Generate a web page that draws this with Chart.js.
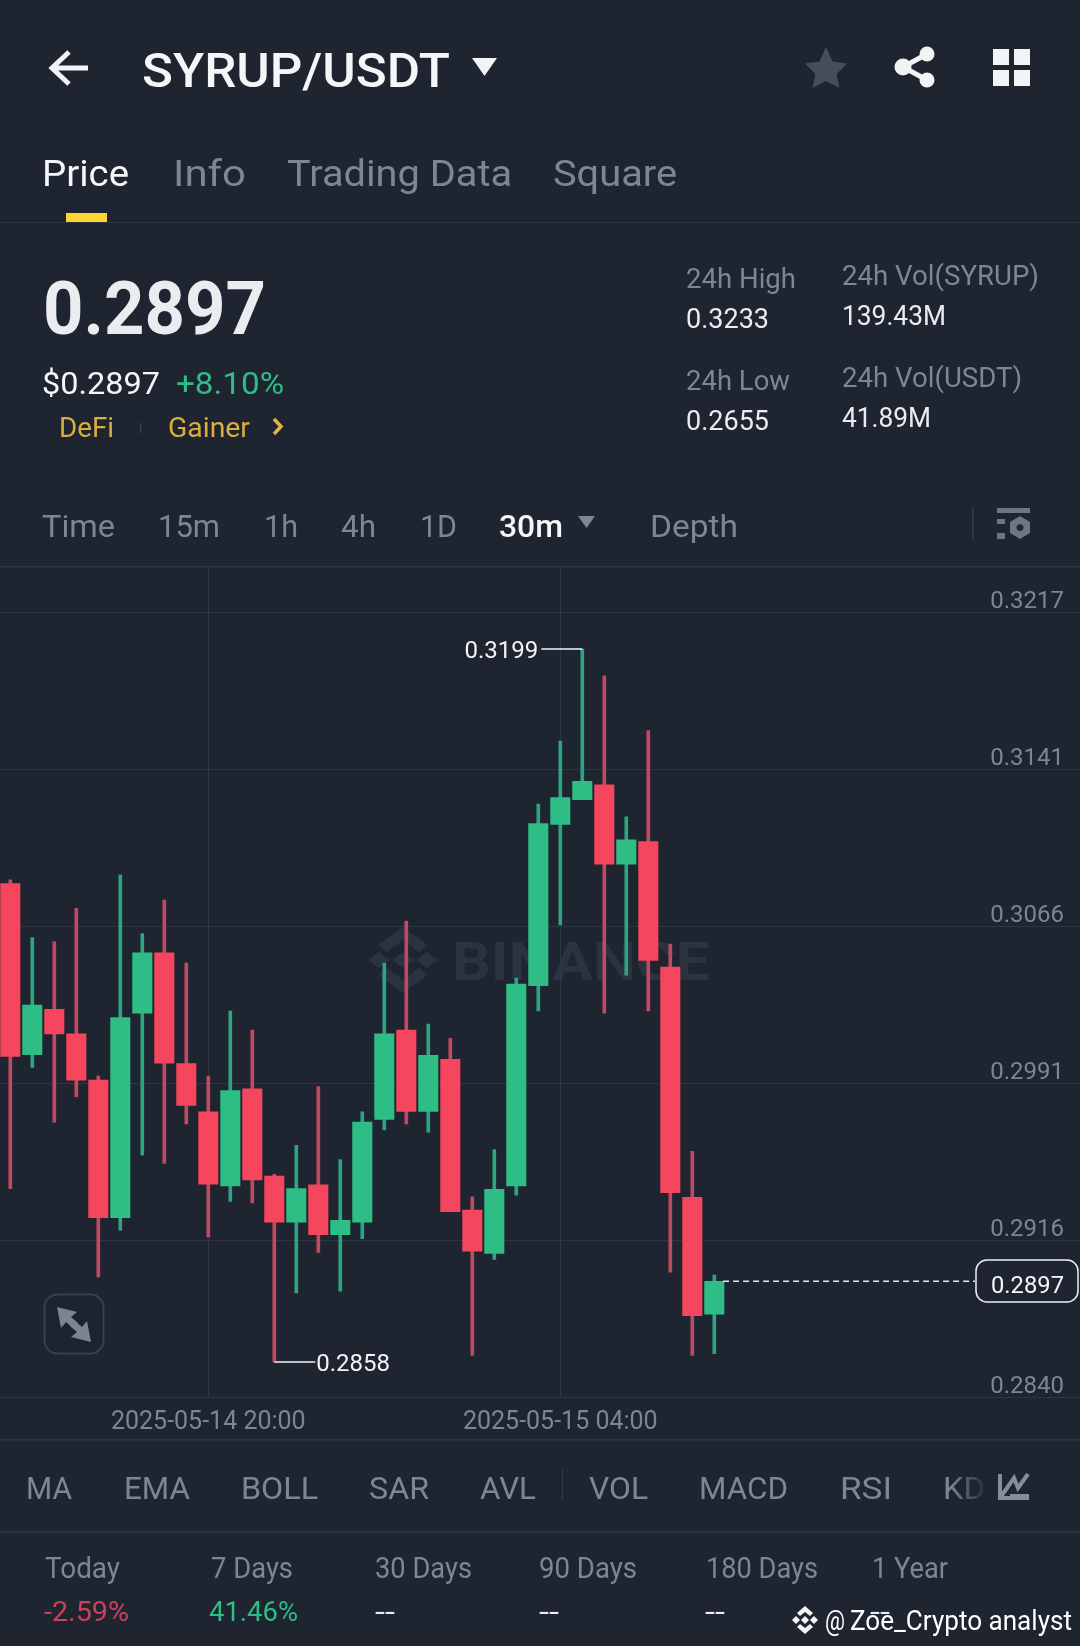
<!DOCTYPE html>
<html>
<head>
<meta charset="utf-8">
<script src="https://cdn.jsdelivr.net/npm/chart.js@4"></script>
<style>
    html, body { margin: 0; padding: 0; background: #1e2430; }
    #page { position: relative; width: 1080px; height: 1646px; overflow: hidden; background: #1e2430; }
    #page svg, #page canvas { position: absolute; left: 0; }
    #mark { top: 0; }
    #ui { top: 0; pointer-events: none; }
    #kline { top: 567px; }
    text { font-family: Roboto, sans-serif; }
</style>
</head>
<body>
<div id="page">
    <svg id="mark" width="1080" height="1646">
        <g fill="#2b3240">
            <path d="M403 927l25 18-9 7-16-12-16 12-9-7zM368 960l11-8 11 8-11 8zM416 960l11-8 11 8-11 8zM392 960l11-8 11 8-11 8zM403 993l-25-18 9-7 16 12 16-12 9 7z"/>
            <text x="452" y="980" font-size="54" font-weight="700" textLength="258" lengthAdjust="spacingAndGlyphs">BINANCE</text>
        </g>
    </svg>
    <canvas id="kline" width="1080" height="873" style="width:1080px;height:873px"></canvas>
    <svg id="ui" width="1080" height="1646" xmlns="http://www.w3.org/2000/svg"></svg>
</div>
<script>
// 30m candles
const opens = [0.30869, 0.30047, 0.30265, 0.30147, 0.29925, 0.29264, 0.30247, 0.30537, 0.30004, 0.29773, 0.29417,
    0.29883, 0.29464, 0.29243, 0.29422, 0.29183, 0.29243, 0.29736, 0.30165, 0.29775, 0.30025, 0.29301,
    0.29093, 0.29417, 0.30379, 0.31153, 0.31272, 0.31343, 0.30963, 0.31071, 0.30468, 0.29362, 0.28801];
const closes = [0.30039, 0.30286, 0.30147, 0.29925, 0.29264, 0.30226, 0.30537, 0.30007, 0.29804, 0.29425, 0.29875,
    0.29446, 0.29243, 0.29404, 0.29183, 0.29251, 0.29723, 0.30147, 0.29775, 0.30044, 0.29293, 0.29103,
    0.29401, 0.30386, 0.31158, 0.31282, 0.31361, 0.30963, 0.31079, 0.30500, 0.29385, 0.28793, 0.28959];
const highs = [0.30887, 0.30610, 0.30589, 0.30750, 0.29944, 0.30911, 0.30629, 0.30790, 0.30487, 0.29944, 0.30257,
    0.30165, 0.29472, 0.29612, 0.29894, 0.29543, 0.29773, 0.30487, 0.30689, 0.30194, 0.30126, 0.29364,
    0.29591, 0.30415, 0.31251, 0.31554, 0.31996, 0.31867, 0.31190, 0.31604, 0.30579, 0.29583, 0.28988];
const lows = [0.29404, 0.29986, 0.29723, 0.29844, 0.28980, 0.29204, 0.29565, 0.29525, 0.29715, 0.29172, 0.29343,
    0.29335, 0.28571, 0.28903, 0.29098, 0.28911, 0.29164, 0.29686, 0.29715, 0.29675, 0.29293, 0.28603,
    0.29064, 0.29372, 0.30257, 0.30671, 0.31272, 0.30247, 0.30429, 0.30257, 0.29003, 0.28603, 0.28611];

const yTicks = [0.32170, 0.31416, 0.30662, 0.29908, 0.29154, 0.28400];
const yTickLabels = ['0.3217', '0.3141', '0.3066', '0.2991', '0.2916', '0.2840'];
const xTickIndex = [9, 25];
const xTickLabels = ['2025-05-14 20:00', '2025-05-15 04:00'];
const peakIndex = 26;
const peakLabel = '0.3199';
const troughIndex = 12;
const troughLabel = '0.2858';

const GREEN = '#2ebd85';
const RED = '#f6465d';
const GREEN_WICK = '#2ea57e';
const RED_WICK = '#c04a60';
const GRID = '#2f3542';
const MUTED = '#7d8694';
const BRIGHT = '#eaecef';

const isUp = i => closes[i] >= opens[i];

// high / low labels with their leader lines
const extremaPlugin = {
    id: 'extrema',
    afterDatasetsDraw(chart) {
        const { ctx, scales } = chart;
        ctx.save();
        ctx.font = '24px Roboto, sans-serif';
        ctx.fillStyle = '#f2f3f5';
        ctx.strokeStyle = '#f2f3f5';
        ctx.lineWidth = 1.5;
        ctx.textBaseline = 'middle';

        const px = scales.x.getPixelForValue(peakIndex);
        const py = scales.y.getPixelForValue(highs[peakIndex]);
        ctx.beginPath(); ctx.moveTo(px, py); ctx.lineTo(px - 41, py); ctx.stroke();
        ctx.textAlign = 'right';
        ctx.fillText(peakLabel, px - 44, py + 3);

        const tx = scales.x.getPixelForValue(troughIndex);
        const ty = scales.y.getPixelForValue(lows[troughIndex]);
        ctx.beginPath(); ctx.moveTo(tx, ty); ctx.lineTo(tx + 41, ty); ctx.stroke();
        ctx.textAlign = 'left';
        ctx.fillText(troughLabel, tx + 42, ty + 3);
        ctx.restore();
    }
};

new Chart(document.getElementById('kline'), {
    type: 'bar',
    plugins: [extremaPlugin],
    data: {
        datasets: [
            {
                label: 'wick',
                data: highs.map((h, i) => ({ x: i, y: [lows[i], h] })),
                backgroundColor: ctx => isUp(ctx.dataIndex) ? GREEN_WICK : RED_WICK,
                barThickness: 3,
                grouped: false,
                order: 2
            },
            {
                label: 'body',
                data: opens.map((o, i) => ({ x: i, y: [o, closes[i]] })),
                backgroundColor: ctx => isUp(ctx.dataIndex) ? GREEN : RED,
                barThickness: 19.4,
                grouped: false,
                order: 1
            },
            {
                type: 'line',
                label: 'last',
                data: [
                    { x: opens.length - 0.6, y: closes[closes.length - 1] },
                    { x: 43.85, y: closes[closes.length - 1] }
                ],
                borderColor: '#e6e8ea',
                borderWidth: 1.5,
                borderDash: [6, 4],
                pointRadius: 0,
                order: 0
            }
        ]
    },
    options: {
        responsive: false,
        animation: false,
        devicePixelRatio: 1,
        layout: { padding: 0 },
        plugins: { legend: { display: false }, tooltip: { enabled: false } },
        scales: {
            x: {
                type: 'linear',
                offset: false,
                min: -0.468,
                max: 48.623,
                afterBuildTicks: scale => { scale.ticks = xTickIndex.map(v => ({ value: v })); },
                afterFit: scale => { scale.height = 42.4; scale.paddingLeft = 0; scale.paddingRight = 0; },
                border: { color: GRID },
                grid: { color: GRID, drawTicks: false, offset: false },
                ticks: {
                    autoSkip: false,
                    maxRotation: 0,
                    padding: 10,
                    color: MUTED,
                    font: { family: 'Roboto, sans-serif', size: 25 },
                    callback: v => xTickLabels[xTickIndex.indexOf(v)]
                }
            },
            y: {
                position: 'right',
                min: 0.2840,
                max: 0.3239,
                afterBuildTicks: scale => { scale.ticks = yTicks.map(v => ({ value: v })); },
                afterFit: scale => { scale.width = 0; scale.paddingTop = 0; scale.paddingBottom = 0; },
                border: { display: false },
                grid: { color: GRID, drawTicks: false },
                ticks: {
                    mirror: true,
                    padding: -16,
                    labelOffset: -11,
                    color: MUTED,
                    font: { family: 'Roboto, sans-serif', size: 24 },
                    callback: (v, i) => yTickLabels[i]
                }
            }
        }
    }
});

// app chrome around the chart
// [text, x, baseline, size, colour, weight, width]
const labels = [
    ['SYRUP/USDT', 142, 87, 48, '#f5f6f7', 500, 308],
    ['Price', 42, 186, 36, '#f5f6f7', 400, 87],
    ['Info', 173, 186, 36, MUTED, 400, 73],
    ['Trading Data', 287, 186, 36, MUTED, 400, 225],
    ['Square', 553, 186, 36, MUTED, 400, 124],
    ['0.2897', 43, 334, 74, BRIGHT, 700, 223],
    ['$0.2897', 42, 394, 32, '#f5f6f7', 400, 118],
    ['+8.10%', 176, 394, 32, GREEN, 400, 108],
    ['DeFi', 59, 437, 28, '#d9ae3d', 400, 55],
    ['Gainer', 168, 437, 28, '#d9ae3d', 400, 82],
    ['24h High', 686, 288, 28, MUTED, 400, 110],
    ['0.3233', 686, 328, 28, BRIGHT, 400, 83],
    ['24h Vol(SYRUP)', 842, 285, 28, MUTED, 400, 197],
    ['139.43M', 842, 325, 28, BRIGHT, 400, 104],
    ['24h Low', 686, 390, 28, MUTED, 400, 104],
    ['0.2655', 686, 430, 28, BRIGHT, 400, 83],
    ['24h Vol(USDT)', 842, 387, 28, MUTED, 400, 180],
    ['41.89M', 842, 427, 28, BRIGHT, 400, 89],
    ['Time', 42, 537, 32, MUTED, 400, 73],
    ['15m', 158, 537, 32, MUTED, 400, 62],
    ['1h', 264, 537, 32, MUTED, 400, 34],
    ['4h', 341, 537, 32, MUTED, 400, 35],
    ['1D', 420, 537, 32, MUTED, 400, 37],
    ['30m', 499, 537, 32, '#f5f6f7', 500, 64],
    ['Depth', 650, 537, 32, MUTED, 400, 88],
    ['0.2897', 991, 1293, 24, '#f5f6f7', 400, 73],
    ['MA', 26, 1499, 32, MUTED, 400, 46],
    ['EMA', 124, 1499, 32, MUTED, 400, 66],
    ['BOLL', 241, 1499, 32, MUTED, 400, 77],
    ['SAR', 369, 1499, 32, MUTED, 400, 60],
    ['AVL', 480, 1499, 32, MUTED, 400, 56],
    ['VOL', 589, 1499, 32, MUTED, 400, 59],
    ['MACD', 699, 1499, 32, MUTED, 400, 89],
    ['RSI', 840, 1499, 32, MUTED, 400, 52],
    ['KD', 943, 1499, 32, 'url(#kdFade)', 400, 42],
    ['Today', 45, 1578, 30, MUTED, 400, 75],
    ['7 Days', 211, 1578, 30, MUTED, 400, 82],
    ['30 Days', 375, 1578, 30, MUTED, 400, 97],
    ['90 Days', 539, 1578, 30, MUTED, 400, 98],
    ['180 Days', 706, 1578, 30, MUTED, 400, 112],
    ['1 Year', 872, 1578, 30, MUTED, 400, 76],
    ['-2.59%', 44, 1621, 28, '#c9435a', 400, 85],
    ['41.46%', 209, 1621, 28, GREEN, 400, 89],
    ['--', 375, 1621, 28, BRIGHT, 400, 20],
    ['--', 539, 1621, 28, BRIGHT, 400, 20],
    ['--', 705, 1621, 28, BRIGHT, 400, 20],
    ['--', 870, 1621, 28, BRIGHT, 400, 20],
    ['@', 825, 1630, 28, '#ffffff', 400, 20],
    ['Zoe_Crypto analyst', 850, 1630, 28, '#ffffff', 400, 222]
];

const shapes = `
    <defs><linearGradient id="kdFade" gradientUnits="userSpaceOnUse" x1="950" y1="0" x2="990" y2="0">
        <stop offset="0" stop-color="${MUTED}"/><stop offset="1" stop-color="${MUTED}" stop-opacity="0"/>
    </linearGradient></defs>
    <path d="M88 68H53M69 52L52 68L69 84" fill="none" stroke="#f2f3f5" stroke-width="5"/>
    <path d="M472 58h25l-12.500 18z" fill="#f2f3f5"/>
    <path d="M826 47l6.500 14.500 14.500 2-10.500 10.500 3 14-13.500-7-13.500 7 3-14-10.500-10.500 14.500-2z" fill="#474d5a"/>
    <path d="M927 54L903 67L927 80" fill="none" stroke="#f2f3f5" stroke-width="5"/>
    <circle cx="927" cy="54" r="7.500" fill="#f2f3f5"/><circle cx="903" cy="67" r="8.500" fill="#f2f3f5"/><circle cx="927" cy="80" r="7.500" fill="#f2f3f5"/>
    <g fill="#f2f3f5"><rect x="993" y="49" width="16" height="16"/><rect x="1014" y="49" width="16" height="16"/><rect x="993" y="70" width="16" height="16"/><rect x="1014" y="70" width="16" height="16"/></g>
    <rect x="0" y="222" width="1080" height="1" fill="${GRID}"/>
    <rect x="66" y="213" width="41" height="9" fill="#fcd535"/>
    <rect x="140" y="423" width="1.500" height="10" fill="#3a4150"/>
    <path d="M274 419l7 7.500-7 7.500" fill="none" stroke="#e0b63e" stroke-width="3.500"/>
    <path d="M578 516h17l-8.500 12z" fill="${MUTED}"/>
    <rect x="972" y="507" width="1.500" height="33" fill="#333a47"/>
    <g fill="#6d7684"><rect x="997" y="508" width="33" height="5"/><rect x="997" y="519" width="8" height="5"/><rect x="997" y="533" width="8" height="6"/><path d="M1020 516l10 6v11l-10 6-10-6v-11zM1020 524a3.500 3.500 0 1 0 .01 0z" fill-rule="evenodd"/></g>
    <rect x="0" y="566" width="1080" height="1.500" fill="${GRID}"/>
    <rect x="0" y="1439" width="1080" height="1.500" fill="${GRID}"/>
    <rect x="0" y="1531" width="1080" height="1.500" fill="${GRID}"/>
    <rect x="44.500" y="1294.500" width="59" height="59" rx="13" fill="#1e2430" fill-opacity="0.7" stroke="#39404d" stroke-width="2"/>
    <path d="M57 1307l20 5-6 5 7 6-5 5-7-6-5 6zM91 1342l-20-5 6-5-7-6 5-5 7 6 5-6z" fill="#7d8490"/>
    <rect x="976" y="1260" width="102" height="42" rx="11" fill="#1e2430" stroke="#eef0f2" stroke-width="1.500"/>
    <rect x="562" y="1469" width="1" height="31" fill="#333a47"/>
    <path d="M1000 1474v24h29M1000 1498L1014 1478L1018 1488L1028 1474" fill="none" stroke="#858d9a" stroke-width="4"/>
    <path d="M1010 1494h19v6h-19z" fill="#858d9a"/>
    <g fill="#f2f3f5"><path d="M805 1606l8 7-3 3-5-4-5 4-3-3zM792 1620l4-4 4 4-4 4zM810 1620l4-4 4 4-4 4zM801 1620l4-4 4 4-4 4zM805 1634l-8-7 3-3 5 4 5-4 3 3z"/></g>`;

const ui = document.getElementById('ui');
ui.innerHTML = shapes + labels.map(([t, x, y, size, fill, weight, w]) =>
    `<text x="${x}" y="${y}" font-size="${size}" font-weight="${weight}" fill="${fill}" textLength="${w}" lengthAdjust="spacingAndGlyphs">${t}</text>`
).join('');
</script>
</body>
</html>
